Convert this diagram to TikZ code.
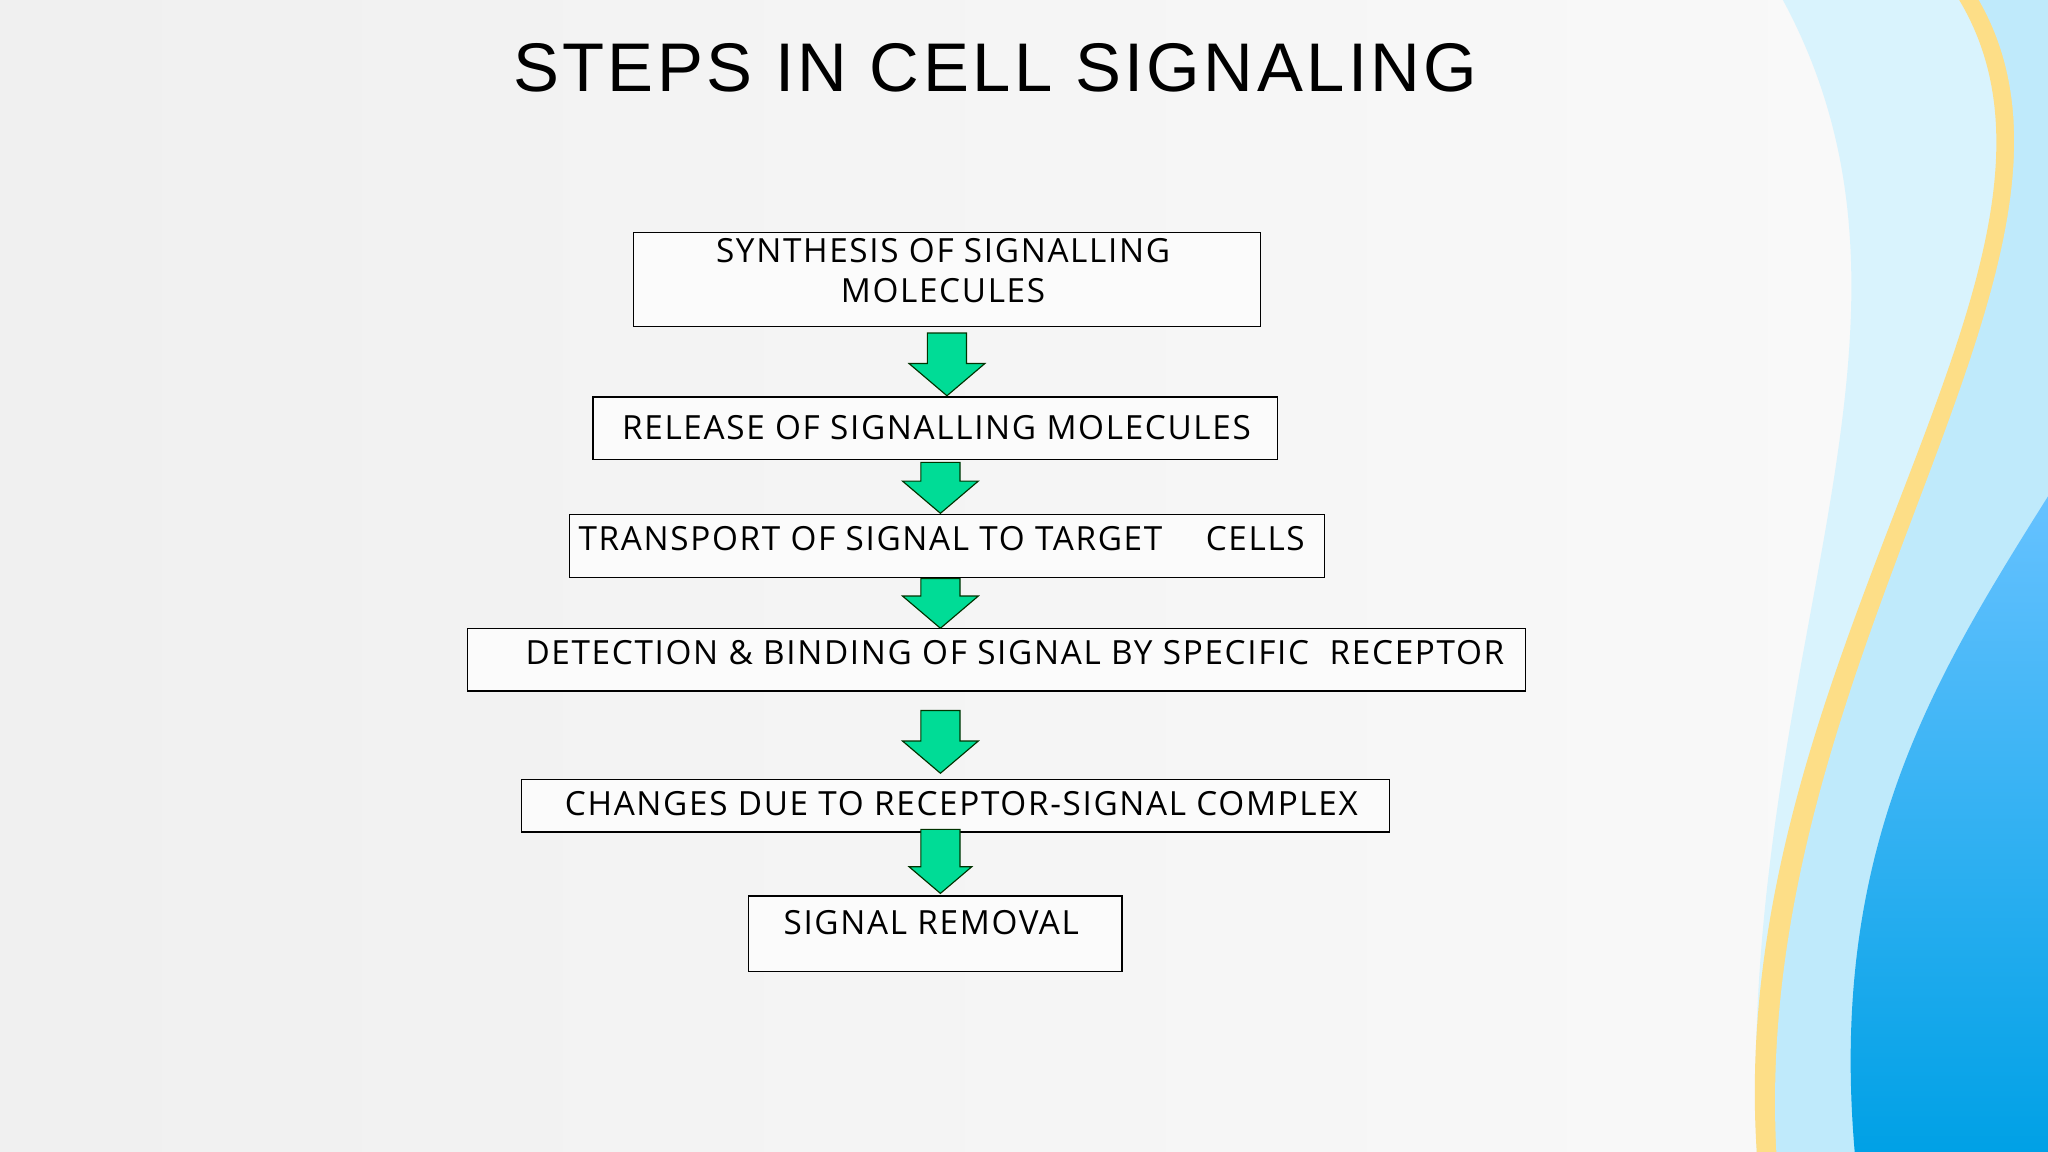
\documentclass[tikz,border=0pt]{standalone}
\usepackage{fontspec}
\setmainfont{Open Sans}
\newfontfamily\titlefont[LetterSpace=5]{Liberation Sans}
\newfontfamily\boxfont[LetterSpace=5]{Open Sans}
\definecolor{arrowgreen}{RGB}{0,220,150}
\begin{document}
\begin{tikzpicture}[x=0.02cm,y=-0.02cm,
  stepbox/.style={draw=black,line width=0.5pt,fill=white!97!gray},
  steptext/.style={font=\boxfont\fontsize{14.5}{17.5}\selectfont,align=center,inner sep=0},
  arrowfill/.style={draw=black!80!green,line width=0.5pt,fill=arrowgreen}]
\newcommand{\dArrow}[4]{% x, ytop, ybot, halfwidth
  \draw[arrowfill] (#1-15,#2) -- (#1+15,#2) -- (#1+15,#3-#4*0.85) -- (#1+#4,#3-#4*0.85) -- (#1,#3) -- (#1-#4,#3-#4*0.85) -- (#1-15,#3-#4*0.85) -- cycle;}
\useasboundingbox (0,0) rectangle (1568,882);
\shade[left color=black!6,right color=black!2] (0,0) rectangle (1568,882);
% right decoration
\fill[white!85!cyan] (1365,0) .. controls (1500,250) and (1330,500) .. (1345,882) -- (1568,882) -- (1568,0) -- cycle;
\fill[yellow!50!orange!45!white] (1500,0) .. controls (1620,200) and (1320,500) .. (1345,882) -- (1568,882) -- (1568,0) -- cycle;
\fill[white!75!cyan] (1515,0) .. controls (1630,200) and (1340,500) .. (1360,882) -- (1568,882) -- (1568,0) -- cycle;
\shade[top color=cyan!60!blue!60,bottom color=cyan!70!blue!90!black] (1568,380) .. controls (1480,520) and (1400,650) .. (1420,882) -- (1568,882) -- cycle;
\node[font=\titlefont\fontsize{30}{36}\selectfont,inner sep=0] (title) at (762,52) {STEPS IN CELL SIGNALING};
% boxes
\draw[stepbox] (485,178) rectangle (965,250);
\node[steptext] (t1) at (722,207) {SYNTHESIS OF SIGNALLING\\MOLECULES};
\draw[stepbox] (454,304) rectangle (978,352);
\node[steptext] (t2) at (717,327) {RELEASE OF SIGNALLING MOLECULES};
\draw[stepbox] (436,394) rectangle (1014,442);
\node[steptext] (t3) at (721,412) {TRANSPORT OF SIGNAL TO TARGET\quad\ CELLS};
\draw[stepbox] (358,481) rectangle (1168,529);
\node[steptext] (t4) at (777,500) {DETECTION \& BINDING OF SIGNAL BY SPECIFIC\ \ RECEPTOR};
\draw[stepbox] (399,597) rectangle (1064,637);
\node[steptext] (t5) at (736,615) {CHANGES DUE TO RECEPTOR-SIGNAL COMPLEX};
\draw[stepbox] (573,686) rectangle (859,744);
\node[steptext] (t6) at (713,706) {SIGNAL REMOVAL};
% arrows
\dArrow{725}{255}{303}{29}
\dArrow{720}{354}{393}{29}
\dArrow{720}{443}{481}{29}
\dArrow{720}{544}{592}{29}
\dArrow{720}{635}{684}{24}
\end{tikzpicture}
\end{document}
